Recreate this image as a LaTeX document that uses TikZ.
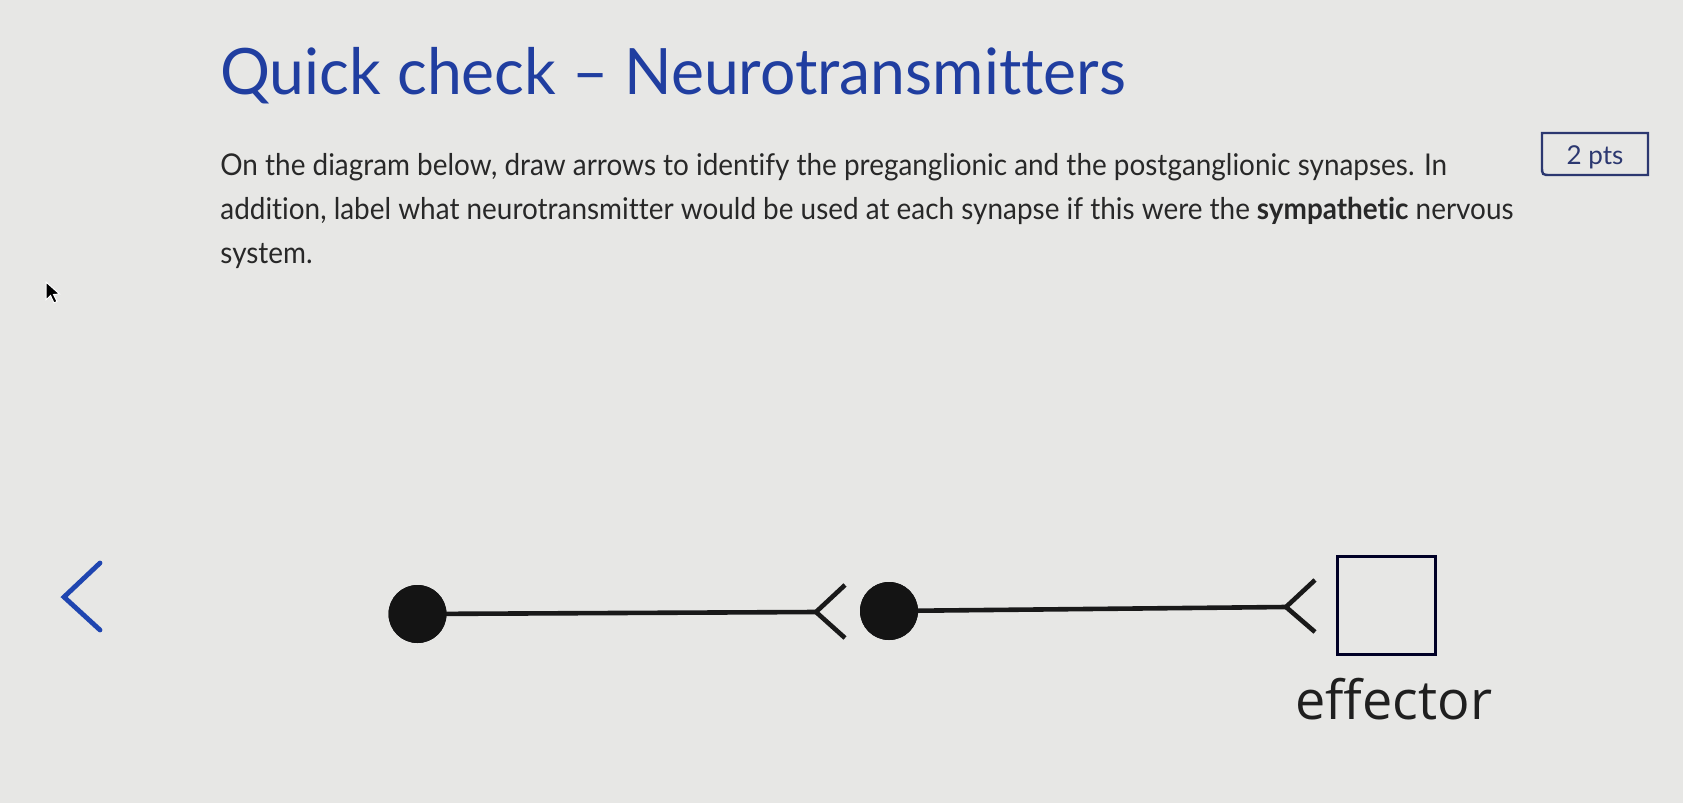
\documentclass[tikz,border=0pt]{standalone}
\usepackage{fontspec}
\setmainfont{Lato}[Ligatures=NoCommon]
\newfontfamily\parafont{Lato}[Ligatures=NoCommon,FakeStretch=0.93]
\newfontfamily\titlefont{Lato}[Ligatures=NoCommon,FakeStretch=0.975]
\newfontfamily\effont{Open Sans}
\definecolor{bg}{RGB}{231,231,229}
\definecolor{titleblue}{RGB}{32,62,160}
\definecolor{txt}{RGB}{40,40,40}
\definecolor{navy}{RGB}{44,56,112}
\definecolor{chev}{RGB}{31,69,176}
\begin{document}
\begin{tikzpicture}[x=0.5pt,y=-0.5pt,
  para/.style={anchor=base west,inner sep=0,text=txt,font=\parafont\fontsize{15}{18}\selectfont},
  soma/.style={circle,fill=black!92,draw=none,inner sep=0,minimum size=29pt},
  axon/.style={line width=2.3pt,black!90},
  effbox/.style={draw=black!85!blue,line width=1.4pt,fill=bg,minimum size=49pt,inner sep=0}]
\fill[bg] (0,0) rectangle (1683,803);
\useasboundingbox (0,0) rectangle (1683,803);
% title
\node[anchor=base west,inner sep=0,text=titleblue,font=\titlefont\fontsize{32}{38}\selectfont] (title) at (220,94) {Quick check – Neurotransmitters};
% paragraph
\node[para] (l1) at (220,175) {On the diagram below, draw arrows to identify the preganglionic and the postganglionic synapses. In};
\node[para] (l2) at (220,219) {addition, label what neurotransmitter would be used at each synapse if this were the \textbf{sympathetic} nervous};
\node[para] (l3) at (220,263) {system.};
% points box
\draw[navy,line width=1.2pt] (1542,166) -- (1542,133) -- (1648,133) -- (1648,175) -- (1551,175) .. controls (1542,175) .. (1542,166);
\node[anchor=base,inner sep=0,text=navy,font=\fontsize{13}{16}\selectfont] (pts) at (1595,164) {2 pts};
% chevron
\coordinate (cht) at (100,563);
\coordinate (chm) at (64,597);
\coordinate (chb) at (100,630);
\draw[chev,line width=2.4pt,line cap=round,line join=miter] (cht) -- (chm) -- (chb);
% cursor
\filldraw[black,draw=white,line width=0.5pt] (46,282) -- (46,300) -- (50.5,295.5) -- (54,303) -- (57,301.5) -- (53.5,294.5) -- (59.5,294) -- cycle;
% neurons
\node[soma] (c1) at (417.5,614) {};
\coordinate (f1) at (816,612);
\coordinate (f1a) at (845,585);
\coordinate (f1b) at (845,638);
\draw[axon] (c1.center) -- (f1);
\draw[axon,line join=miter] (f1a) -- (f1) -- (f1b);
\node[soma] (c2) at (889,611) {};
\coordinate (f2) at (1286,607);
\coordinate (f2a) at (1315,580);
\coordinate (f2b) at (1315,632);
\draw[axon] (c2.center) -- (f2);
\draw[axon,line join=miter] (f2a) -- (f2) -- (f2b);
\node[soma] at (c1) {};
\node[soma] at (c2) {};
% effector
\node[effbox] (eff) at (1386.5,605.5) {};
\node[anchor=base,inner sep=0,text=black!88,font=\effont\fontsize{27}{32}\selectfont] (efflabel) at (1394,719) {effector};
\end{tikzpicture}
\end{document}
